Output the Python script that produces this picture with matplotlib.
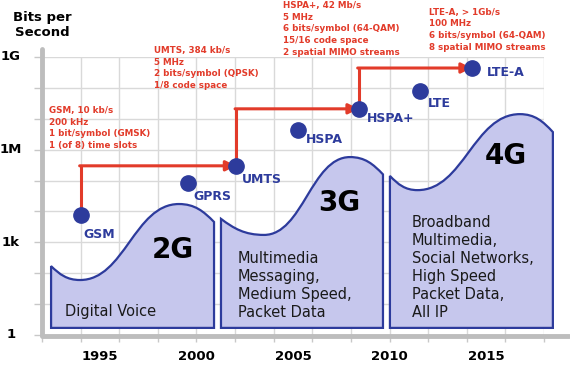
import matplotlib
matplotlib.use("Agg")
import matplotlib.pyplot as plt
from matplotlib.path import Path
from matplotlib.patches import PathPatch
from matplotlib.transforms import blended_transform_factory

# --- dane ---
tech_names = ["GSM", "GPRS", "UMTS", "HSPA", "HSPA+", "LTE", "LTE-A"]
tech_years = [1994.0, 1999.55, 2002.05, 2005.25, 2008.4, 2011.6, 2014.25]
tech_rates = [7.6e3, 8.3e4, 3.0e5, 4.4e6, 2.1e7, 8.0e7, 4.4e8]
label_offsets = [(2, -14), (4, -10), (4, -10), (6, -7), (6, -7), (5, -9), (11, -3)]

# kroki strzalek: (indeks startu, indeks celu)
arrow_steps = [(0, 2), (2, 4), (4, 6)]

info_texts = [
    "GSM, 10 kb/s\n200 kHz\n1 bit/symbol (GMSK)\n1 (of 8) time slots",
    "UMTS, 384 kb/s\n5 MHz\n2 bits/symbol (QPSK)\n1/8 code space",
    "HSPA+, 42 Mb/s\n5 MHz\n6 bits/symbol (64-QAM)\n15/16 code space\n2 spatial MIMO streams",
    "LTE-A, > 1Gb/s\n100 MHz\n6 bits/symbol (64-QAM)\n8 spatial MIMO streams",
]
info_years = [1992.35, 1997.8, 2004.5, 2012.05]
info_decades = [7.42, 9.36, 10.82, 10.6]

# ksztalty generacji: lewa krawedz, minimum, szczyt, prawa krawedz (rok, log10)
gen_names = ["2G", "3G", "4G"]
gen_outlines = [
    [(1992.47, 2.23), (1993.97, 1.78), (1999.09, 4.24), (2000.91, 3.66)],
    [(2001.27, 3.76), (2003.5, 3.24), (2007.95, 5.76), (2009.66, 5.2)],
    [(2010.02, 5.15), (2011.45, 4.69), (2016.75, 7.15), (2018.46, 6.57)],
]
gen_bottom = 0.23
gen_label_pos = [(1998.78, 2.75), (2007.38, 4.27), (2016.03, 5.79)]
gen_texts = [
    "Digital Voice",
    "Multimedia\nMessaging,\nMedium Speed,\nPacket Data",
    "Broadband\nMultimedia,\nSocial Networks,\nHigh Speed\nPacket Data,\nAll IP",
]
gen_text_pos = [(1993.2, 0.75), (2002.15, 1.6), (2011.15, 2.2)]

year_labels = [1995, 2000, 2005, 2010, 2015]
rate_ticks = [1, 1e3, 1e6, 1e9]
rate_labels = ["1", "1k", "1M", "1G"]

BLUE = "#2d3b9c"
RED = "#e23b2a"
FILL = "#c6c7ed"
GRID = "#d9d9d9"


def gen_path(outline, bottom):
    """Sciezka Beziera dla jednego ksztaltu generacji."""
    (x0, y0), (x1, y1), (x2, y2), (x3, y3) = outline
    d1, d2, d3 = x1 - x0, x2 - x1, x3 - x2
    pts = [
        (x0, bottom), (x0, y0),
        (x0 + 0.3 * d1, y0 + 0.6 * (y1 - y0)), (x1 - 0.45 * d1, y1), (x1, y1),
        (x1 + 0.45 * d2, y1), (x2 - 0.45 * d2, y2), (x2, y2),
        (x2 + 0.45 * d3, y2), (x3 - 0.3 * d3, y3 + 0.6 * (y2 - y3)), (x3, y3),
        (x3, bottom), (x0, bottom),
    ]
    codes = [Path.MOVETO, Path.LINETO] + [Path.CURVE4] * 9 + [Path.LINETO, Path.CLOSEPOLY]
    verts = [(x, 10 ** y) for x, y in pts]
    return Path(verts, codes)


fig = plt.figure(figsize=(5.7, 3.65), dpi=100)
ax = fig.add_axes([42 / 570, 1 - 335 / 365, 502 / 570, 278 / 365])
ax.set_yscale("log")
ax.set_xlim(1992, 2018)
ax.set_ylim(1, 1e9)
for s in ax.spines.values():
    s.set_visible(False)

# siatka
ax.set_xticks(range(1992, 2019, 2))
ax.set_xticklabels([])
ax.tick_params(axis="x", which="major", length=5, color="#c8c8c8", width=1)
ax.set_yticks([10 ** k for k in range(10)])
ax.set_yticklabels([])
ax.yaxis.set_minor_locator(matplotlib.ticker.NullLocator())
ax.tick_params(axis="y", which="major", length=6, color="#c8c8c8", width=1)
ax.grid(True, which="major", color=GRID, linewidth=1)
ax.set_axisbelow(True)

# podpisy osi
ytrans = blended_transform_factory(ax.transAxes, ax.transData)
for val, lab in zip(rate_ticks, rate_labels):
    ax.text(-31 / 502, val, lab, transform=ytrans, ha="center", va="center",
            fontsize=9.5, fontweight="bold")
xtrans = blended_transform_factory(ax.transData, ax.transAxes)
for yr in year_labels:
    ax.text(yr, -22 / 278, str(yr), transform=xtrans, ha="center", va="center",
            fontsize=9.5, fontweight="bold")

# szare osie
ax.plot([0, 0], [0, 1.03], transform=ax.transAxes, color="#bdbdbd", lw=3.5,
        solid_capstyle="round", clip_on=False, zorder=1)
ax.plot([0, 1.05], [-0.002, -0.002], transform=ax.transAxes, color="#bdbdbd", lw=3.5,
        solid_capstyle="round", clip_on=False, zorder=1)
fig.text(42 / 570, 1 - 25 / 365, "Bits per\nSecond", ha="center", va="center",
         fontsize=9.5, fontweight="bold", linespacing=1.2)

# ksztalty generacji
for outline, name, (lx, ly), txt, (tx, ty) in zip(gen_outlines, gen_names, gen_label_pos,
                                                  gen_texts, gen_text_pos):
    patch = PathPatch(gen_path(outline, gen_bottom), facecolor=FILL, edgecolor=BLUE,
                      lw=1.6, clip_on=False, zorder=2)
    ax.add_patch(patch)
    ax.text(lx, 10 ** ly, name, ha="center", va="center", fontsize=20,
            fontweight="bold", color="black", zorder=3)
    ax.text(tx, 10 ** ty, txt, ha="left", va="center", fontsize=10.5,
            color="#1a1a1a", linespacing=1.25, zorder=3)

# czerwone strzalki
for i0, i1 in arrow_steps:
    x0, y0 = tech_years[i0], tech_rates[i0]
    x1, y1 = tech_years[i1], tech_rates[i1]
    ax.plot([x0, x0], [y0, y1], color=RED, lw=2.2, zorder=4, solid_capstyle="butt")
    ax.annotate("", xy=(x1, y1), xytext=(x0 - 0.05, y1),
                arrowprops=dict(arrowstyle="-|>,head_length=0.6,head_width=0.3",
                                color=RED, lw=2.2, shrinkA=0, shrinkB=0),
                zorder=4)

# punkty technologii
ax.plot(tech_years, tech_rates, "o", color=BLUE, markersize=11, zorder=5, clip_on=False)
for name, x, y, (dx, dy) in zip(tech_names, tech_years, tech_rates, label_offsets):
    ax.annotate(name, (x, y), xytext=(dx, dy), textcoords="offset points",
                ha="left", va="center", fontsize=9, fontweight="bold", color=BLUE,
                zorder=6)

# opisy techniczne
for txt, x, d in zip(info_texts, info_years, info_decades):
    ax.text(x, 10 ** d, txt, ha="left", va="top", fontsize=6.3, fontweight="bold",
            color=RED, linespacing=1.4, clip_on=False, zorder=6)

fig.savefig("out.png", dpi=100)
